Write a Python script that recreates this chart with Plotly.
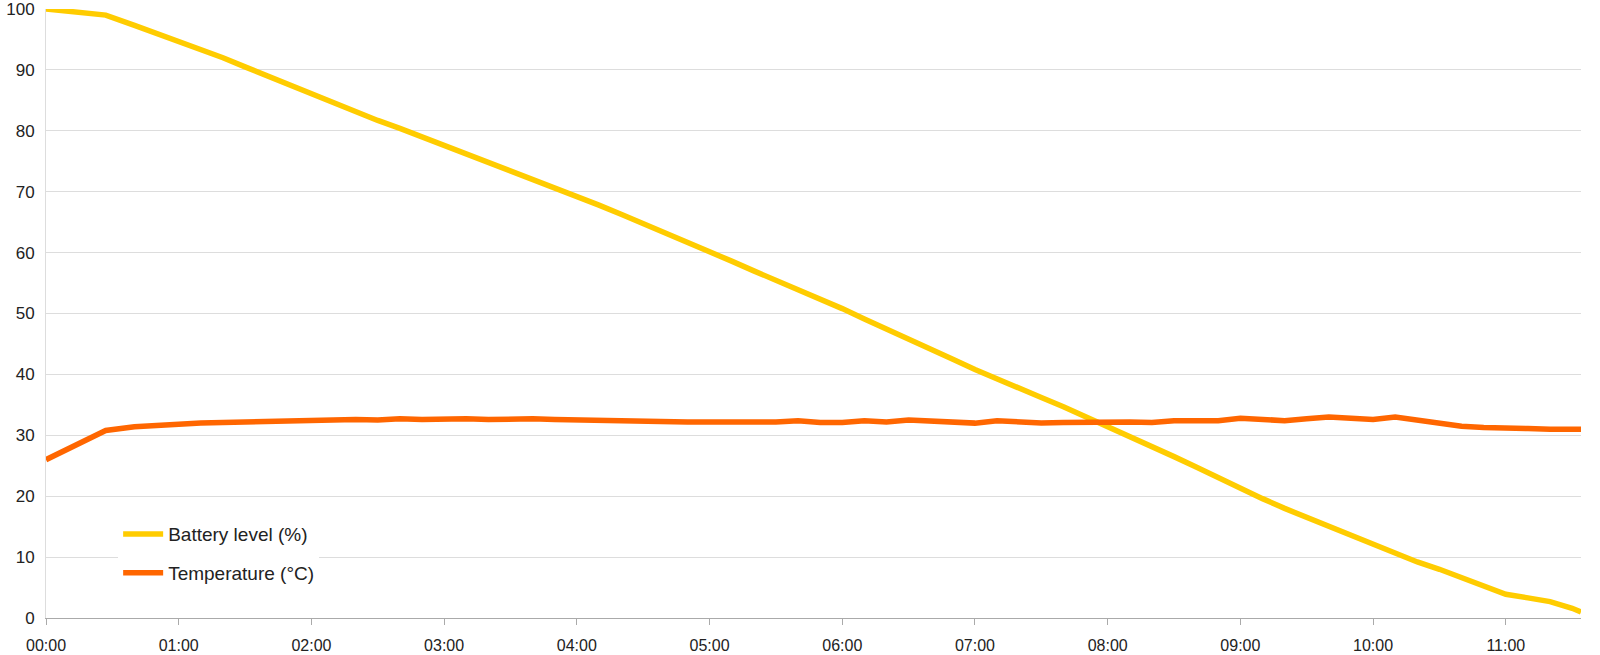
import plotly.graph_objects as go

minutes = [0, 27, 40, 50, 60, 70, 80, 90, 100, 110, 120, 130, 140, 150, 160, 170, 180, 190, 200,
           210, 220, 230, 240, 250, 260, 270, 280, 290, 300, 310, 320, 330, 340, 350, 360, 370,
           380, 390, 400, 410, 420, 430, 440, 450, 460, 470, 480, 490, 500, 510, 520, 530, 540,
           550, 560, 570, 580, 590, 600, 610, 620, 630, 640, 650, 660, 670, 680, 690, 694]

battery = [100, 99, 97.3, 96.0, 94.7, 93.4, 92.0, 90.5, 89.0, 87.6, 86.0, 84.5, 83.2, 81.7, 80.4,
           79.0, 77.6, 76.2, 74.9, 73.5, 72.1, 70.8, 69.3, 67.8, 66.3, 64.8, 63.3, 61.7, 60.1,
           58.6, 57.0, 55.5, 54.0, 52.5, 50.8, 49.1, 47.5, 45.9, 44.2, 42.5, 40.8, 39.2, 37.7,
           36.2, 34.7, 33.1, 31.5, 29.8, 28.2, 26.5, 24.8, 23.0, 21.3, 19.6, 18.0, 16.5, 15.0,
           13.5, 12.0, 10.6, 9.2, 8.0, 6.7, 5.3, 3.9, 3.3, 2.7, 1.6, 1.0]

temperature = [26.0, 30.8, 31.4, 31.7, 31.8, 32.0, 32.1, 32.2, 32.3, 32.4, 32.5, 32.5, 32.6, 32.5,
               32.7, 32.6, 32.7, 32.7, 32.6, 32.7, 32.7, 32.6, 32.5, 32.5, 32.4, 32.4, 32.3, 32.2,
               32.2, 32.1, 32.2, 32.2, 32.4, 32.1, 32.1, 32.4, 32.2, 32.5, 32.3, 32.1, 32.0, 32.4,
               32.1, 32.0, 32.1, 32.2, 32.2, 32.2, 32.1, 32.4, 32.4, 32.4, 32.8, 32.5, 32.4, 32.7,
               33.0, 32.8, 32.6, 33.0, 32.5, 32.0, 31.5, 31.3, 31.1, 31.1, 31.0, 31.0, 31.0]

tick_minutes = [0, 60, 120, 180, 240, 300, 360, 420, 480, 540, 600, 660]
tick_labels = ["00:00", "01:00", "02:00", "03:00", "04:00", "05:00",
               "06:00", "07:00", "08:00", "09:00", "10:00", "11:00"]

fig = go.Figure()
fig.add_trace(go.Scatter(x=minutes, y=battery, mode="lines", name="Battery level (%)",
                         line=dict(color="#FFCC00", width=5.5), legendgroup="a"))
fig.add_trace(go.Scatter(x=minutes, y=temperature, mode="lines", name="Temperature (°C)",
                         line=dict(color="#FF6600", width=5.5), legendgroup="b"))

fig.update_layout(
    width=1600, height=655,
    margin=dict(l=46, r=19, t=9, b=37, autoexpand=False),
    paper_bgcolor="white", plot_bgcolor="white",
    font=dict(family="Liberation Sans, Arial, sans-serif", size=16, color="#222222"),
    showlegend=True,
    legend=dict(x=0.047, y=0.169, xanchor="left", yanchor="top",
                bgcolor="white", font=dict(size=19, color="#222222"),
                tracegroupgap=11, traceorder="grouped", itemwidth=40),
    xaxis=dict(range=[0, 694], tickmode="array", tickvals=tick_minutes, ticktext=tick_labels,
               showgrid=False, zeroline=False, showline=True, linecolor="#aaaaaa", linewidth=1,
               ticks="outside", ticklen=6, tickcolor="#aaaaaa", ticklabelstandoff=7,
               tickfont=dict(size=16), automargin=False, ticklabeloverflow="allow"),
    yaxis=dict(range=[0, 100], dtick=10, showgrid=True, gridcolor="#dddddd", gridwidth=1,
               zeroline=False, showline=True, linecolor="#dddddd", linewidth=1,
               ticks="", ticklabelstandoff=7, tickfont=dict(size=17), automargin=False,
               ticklabeloverflow="allow"),
)

fig.write_html("out.html", config={"displayModeBar": False},
               post_script="document.body.style.margin='0';document.body.style.overflow='hidden';")
